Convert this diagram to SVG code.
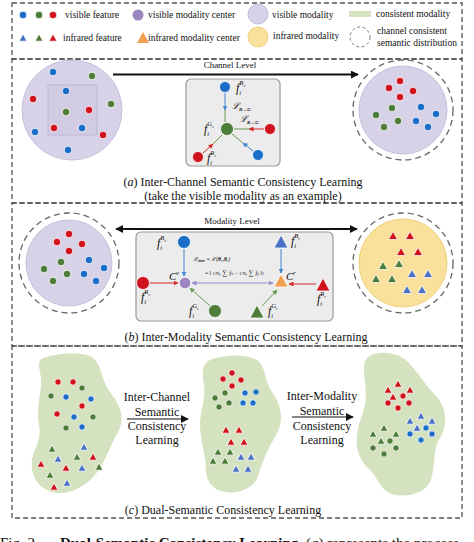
<svg xmlns="http://www.w3.org/2000/svg" xmlns:xlink="http://www.w3.org/1999/xlink" width="474" height="542" viewBox="0 0 474 542">
<style>
text{font-family:"Liberation Serif","Times New Roman",serif;fill:#111}
.leg{font-size:9.5px}
.cap{font-size:12px}
.lvl{font-size:9px}
.mid{text-anchor:middle}
.m{font-style:italic;font-size:12px}
.sb{font-size:6.5px}
.sp{font-size:6.5px}
.ss{font-size:4.5px}
.b{fill:#1a6ec8}
.g{fill:#4e7d3a}
.r{fill:#cf121b}
.tb{fill:#4a72c4}
.dot{stroke:#fff;stroke-width:0.8}
.frame{fill:none;stroke:#555;stroke-width:1.3;stroke-dasharray:5,3}
.dring{fill:#fff;stroke:#666;stroke-width:1.3;stroke-dasharray:6,4}
.lav{fill:#d8d2e8;stroke:#c6bedc;stroke-width:1}
.yel{fill:#f9e09b;stroke:#f1d07a;stroke-width:1}
.blob{fill:#d5e2c0}
.box{fill:#ececec;stroke:#9a9a9a;stroke-width:1.2}
</style>
<defs>
<circle id="c" r="3.8" class="dot"/>
<circle id="cs" r="3.2" class="dot"/>
<path id="t" d="M0,-4.6 L4.6,3.6 L-4.6,3.6Z" class="dot"/>
<path id="ts" d="M0,-4 L4,3.2 L-4,3.2Z" class="dot"/>
<marker id="ak" viewBox="0 0 10 10" refX="9" refY="5" markerWidth="8" markerHeight="8" markerUnits="userSpaceOnUse" orient="auto-start-reverse"><path d="M0,0 L10,5 L0,10Z" fill="#111"/></marker>
<marker id="ab" viewBox="0 0 10 10" refX="9" refY="5" markerWidth="5" markerHeight="5" markerUnits="userSpaceOnUse" orient="auto"><path d="M0,0 L10,5 L0,10Z" fill="#3f86d0"/></marker>
<marker id="ar" viewBox="0 0 10 10" refX="9" refY="5" markerWidth="5" markerHeight="5" markerUnits="userSpaceOnUse" orient="auto"><path d="M0,0 L10,5 L0,10Z" fill="#d42a2a"/></marker>
<marker id="ag" viewBox="0 0 10 10" refX="9" refY="5" markerWidth="5" markerHeight="5" markerUnits="userSpaceOnUse" orient="auto"><path d="M0,0 L10,5 L0,10Z" fill="#6a9a50"/></marker>
<marker id="ap" viewBox="0 0 10 10" refX="9" refY="5" markerWidth="5" markerHeight="5" markerUnits="userSpaceOnUse" orient="auto-start-reverse"><path d="M0,0 L10,5 L0,10Z" fill="#9a8cc8"/></marker>
</defs>

<!-- frames -->
<g id="frames">
<rect class="frame" x="12" y="3" width="450" height="56"/>
<rect class="frame" x="12" y="59" width="450" height="144"/>
<rect class="frame" x="12" y="203" width="450" height="143"/>
<rect class="frame" x="12" y="346" width="450" height="172"/>
</g>

<!-- legend -->
<g id="legend">
<use href="#c" x="23" y="15" class="b"/><use href="#c" x="39" y="15" class="g"/><use href="#c" x="53" y="15" class="r"/>
<text class="leg" x="65" y="18">visible feature</text>
<circle cx="138" cy="15" r="5.5" fill="#9b86bf"/>
<text class="leg" x="148" y="18">visible modality center</text>
<circle cx="258" cy="14" r="10" class="lav"/>
<text class="leg" x="272" y="18">visible modality</text>
<rect x="349" y="11" width="22" height="6" fill="#d5e2c0"/>
<text class="leg" x="376" y="17">consistent modality</text>
<use href="#ts" x="23" y="38" class="tb"/><use href="#ts" x="39" y="38" class="g"/><use href="#ts" x="53" y="38" class="r"/>
<text class="leg" x="63" y="41">infrared feature</text>
<path d="M143,32 L149,43 L137,43Z" fill="#f0a050"/>
<text class="leg" x="148" y="41">infrared modality center</text>
<circle cx="258" cy="37" r="10" class="yel"/>
<text class="leg" x="273" y="39">infrared modality</text>
<circle cx="360" cy="37" r="10" fill="none" stroke="#777" stroke-width="1" stroke-dasharray="3,2.5"/>
<text class="leg" x="377" y="34">channel consistent</text>
<text class="leg" x="377" y="46">semantic distribution</text>
</g>

<!-- panel a -->
<g id="a-left">
<circle cx="72" cy="110" r="50" class="lav"/>
<rect x="48" y="85" width="49" height="50" fill="#d2cbe4" stroke="#b8b0cf" stroke-width="0.8"/>
<use href="#c" x="53" y="72" class="b"/><use href="#c" x="92" y="76" class="g"/><use href="#c" x="66" y="91" class="b"/>
<use href="#c" x="33" y="99" class="r"/><use href="#c" x="111" y="104" class="g"/><use href="#c" x="66" y="112" class="g"/>
<use href="#c" x="89" y="110" class="r"/><use href="#c" x="54" y="128" class="r"/><use href="#c" x="82" y="128" class="b"/>
<use href="#c" x="35" y="132" class="b"/><use href="#c" x="103" y="135" class="r"/><use href="#c" x="68" y="150" class="b"/>
</g>
<g id="a-box">
<rect x="186" y="79" width="94" height="87" rx="5" class="box"/>
<text class="m" x="236" y="92" font-size="11">f<tspan class="sb" dy="3">i</tspan><tspan class="sp" dx="-2" dy="-10">B</tspan><tspan class="ss" dy="2">v</tspan></text>
<text class="m" x="204" y="133" font-size="11">f<tspan class="sb" dy="3">i</tspan><tspan class="sp" dx="-2" dy="-10">G</tspan><tspan class="ss" dy="2">v</tspan></text>
<text class="m" x="207" y="162" font-size="11">f<tspan class="sb" dy="3">i</tspan><tspan class="sp" dx="-2" dy="-10">R</tspan><tspan class="ss" dy="2">v</tspan></text>
<text x="232" y="109" font-size="9" font-style="italic">ℒ<tspan dy="2" font-size="5" font-weight="bold">B→G</tspan></text>
<text x="240" y="122" font-size="9" font-style="italic">ℒ<tspan dy="2" font-size="5" font-weight="bold">R→G</tspan></text>
<circle cx="225" cy="87" r="5.5" class="b dot"/>
<circle cx="270" cy="129" r="5.5" class="r dot"/>
<circle cx="198" cy="157" r="5.5" class="r dot"/>
<circle cx="258" cy="155" r="5.5" class="b dot"/>
<circle cx="227" cy="129" r="6.5" class="g dot"/>
</g>
<g id="a-right">
<circle cx="403" cy="110" r="50" class="dring"/>
<circle cx="403" cy="110" r="44" class="lav"/>
<use href="#c" x="400" y="81" class="r"/><use href="#c" x="389" y="88" class="r"/><use href="#c" x="413" y="91" class="r"/><use href="#c" x="400" y="97" class="r"/>
<use href="#c" x="392" y="108" class="g"/><use href="#c" x="376" y="115" class="g"/><use href="#c" x="398" y="121" class="g"/><use href="#c" x="384" y="127" class="g"/>
<use href="#c" x="421" y="107" class="b"/><use href="#c" x="436" y="114" class="b"/><use href="#c" x="416" y="121" class="b"/><use href="#c" x="428" y="127" class="b"/>
</g>
<text class="lvl mid" x="230" y="68">Channel Level</text>
<text class="cap mid" x="243" y="186">(<tspan font-style="italic">a</tspan>) Inter-Channel Semantic Consistency Learning</text>
<text class="cap mid" x="243" y="200">(take the visible modality as an example)</text>

<!-- panel b -->
<g id="b-left">
<circle cx="69" cy="263" r="50" class="dring"/>
<circle cx="69" cy="263" r="43" class="lav"/>
<use href="#c" x="69" y="234" class="r"/><use href="#c" x="57" y="242" class="r"/><use href="#c" x="82" y="244" class="r"/><use href="#c" x="69" y="251" class="r"/>
<use href="#c" x="61" y="262" class="g"/><use href="#c" x="44" y="269" class="g"/><use href="#c" x="67" y="274" class="g"/><use href="#c" x="53" y="281" class="g"/>
<use href="#c" x="89" y="260" class="b"/><use href="#c" x="104" y="268" class="b"/><use href="#c" x="84" y="274" class="b"/><use href="#c" x="96" y="281" class="b"/>
</g>
<g id="b-box">
<rect x="136" y="232" width="197" height="89" rx="5" class="box"/>
<text x="193" y="261" font-size="5.5" font-style="italic">ℒ<tspan font-size="3.5" font-weight="bold" dy="1">inter</tspan><tspan dy="-1"> = ℒ(</tspan><tspan font-weight="bold">θ</tspan><tspan font-size="3.5" dy="1">v</tspan><tspan dy="-1">,</tspan><tspan font-weight="bold">θ</tspan><tspan font-size="3.5" dy="1">r</tspan><tspan dy="-1">)</tspan></text>
<text x="205" y="275" font-size="5.5">= ‖ <tspan font-size="4.5">1/N<tspan font-size="3" dy="1">v</tspan></tspan><tspan dy="-1" font-size="7"> ∑ </tspan><tspan font-style="italic">f</tspan><tspan font-size="3.5">i</tspan><tspan font-size="3.5">v</tspan> − <tspan font-size="4.5">1/N<tspan font-size="3" dy="1">r</tspan></tspan><tspan dy="-1" font-size="7"> ∑ </tspan><tspan font-style="italic">f</tspan><tspan font-size="3.5">j</tspan><tspan font-size="3.5">r</tspan> ‖<tspan font-size="3.5">2</tspan></text>
<text class="m" x="157" y="247">f<tspan class="sb" dy="3">i</tspan><tspan class="sp" dx="-2" dy="-10">B</tspan><tspan class="ss" dy="2">v</tspan></text>
<text x="169" y="280" font-size="11" font-style="italic">C<tspan font-size="6" dy="-5">v</tspan></text>
<text class="m" x="141" y="301">f<tspan class="sb" dy="3">i</tspan><tspan class="sp" dx="-2" dy="-10">R</tspan><tspan class="ss" dy="2">v</tspan></text>
<text class="m" x="189" y="315">f<tspan class="sb" dy="3">i</tspan><tspan class="sp" dx="-2" dy="-10">G</tspan><tspan class="ss" dy="2">v</tspan></text>
<text class="m" x="291" y="245">f<tspan class="sb" dy="3">i</tspan><tspan class="sp" dx="-2" dy="-10">B</tspan><tspan class="ss" dy="2">r</tspan></text>
<text x="286" y="280" font-size="11" font-style="italic">C<tspan font-size="6" dy="-5">r</tspan></text>
<text class="m" x="317" y="303">f<tspan class="sb" dy="3">i</tspan><tspan class="sp" dx="-2" dy="-10">R</tspan><tspan class="ss" dy="2">r</tspan></text>
<text class="m" x="268" y="315">f<tspan class="sb" dy="3">i</tspan><tspan class="sp" dx="-2" dy="-10">G</tspan><tspan class="ss" dy="2">r</tspan></text>
<circle cx="184" cy="242" r="6.5" class="b dot"/>
<circle cx="143" cy="283" r="6.5" class="r dot"/>
<circle cx="215" cy="311" r="6.5" class="g dot"/>
<circle cx="185" cy="283" r="5.8" fill="#9b86bf" stroke="#fff" stroke-width="0.8"/>
<path d="M281,235 L288,248 L274,248Z" class="tb dot"/>
<path d="M281,274 L288,287 L274,287Z" fill="#f0a050" stroke="#fff" stroke-width="0.8"/>
<path d="M323,278 L330,291 L316,291Z" class="r dot"/>
<path d="M257,305 L264,318 L250,318Z" class="g dot"/>
</g>
<g id="b-right">
<circle cx="403" cy="263" r="50" class="dring"/>
<circle cx="403" cy="263" r="44" class="yel"/>
<use href="#t" x="393" y="236" class="r"/><use href="#t" x="410" y="236" class="r"/><use href="#t" x="401" y="252" class="r"/><use href="#t" x="418" y="252" class="r"/>
<use href="#t" x="383" y="266" class="g"/><use href="#t" x="399" y="264" class="g"/><use href="#t" x="376" y="279" class="g"/><use href="#t" x="392" y="279" class="g"/>
<use href="#t" x="412" y="274" class="tb"/><use href="#t" x="428" y="274" class="tb"/><use href="#t" x="407" y="290" class="tb"/><use href="#t" x="422" y="290" class="tb"/>
</g>
<text class="lvl mid" x="232" y="224">Modality Level</text>
<text class="cap mid" x="246" y="341">(<tspan font-style="italic">b</tspan>) Inter-Modality Semantic Consistency Learning</text>

<!-- panel c -->
<g id="c-blob1">
<path class="blob" d="M43,358 C60,352 80,352 90,356 C102,362 100,378 110,392 C120,405 126,418 118,432 C110,445 106,462 95,475 C85,488 65,496 52,492 C38,488 30,475 32,460 C34,448 42,440 39,425 C36,410 40,398 41,385 C42,372 35,362 43,358 Z"/>
<use href="#cs" x="58" y="382" class="r"/><use href="#cs" x="73" y="382" class="r"/><use href="#cs" x="82" y="388" class="g"/><use href="#cs" x="51" y="396" class="g"/>
<use href="#cs" x="66" y="397" class="b"/><use href="#cs" x="82" y="406" class="r"/><use href="#cs" x="91" y="399" class="b"/><use href="#cs" x="57" y="414" class="r"/>
<use href="#cs" x="74" y="417" class="b"/><use href="#cs" x="93" y="417" class="g"/><use href="#cs" x="66" y="428" class="g"/><use href="#cs" x="82" y="427" class="b"/>
<use href="#ts" x="52" y="449" class="g"/><use href="#ts" x="84" y="447" class="tb"/><use href="#ts" x="58" y="459" class="tb"/><use href="#ts" x="77" y="457" class="g"/>
<use href="#ts" x="93" y="457" class="r"/><use href="#ts" x="41" y="464" class="r"/><use href="#ts" x="66" y="468" class="r"/><use href="#ts" x="82" y="468" class="tb"/>
<use href="#ts" x="99" y="467" class="g"/><use href="#ts" x="50" y="475" class="g"/><use href="#ts" x="67" y="483" class="tb"/><use href="#ts" x="54" y="487" class="r"/>
</g>
<g id="c-blob2">
<path class="blob" d="M210,360 C225,354 245,354 257,360 C266,366 264,380 272,392 C282,405 284,422 276,435 C268,448 262,462 258,476 C254,488 240,494 225,492 C212,490 206,480 206,470 C206,455 200,440 200,425 C200,410 206,400 204,385 C202,372 202,364 210,360 Z"/>
<use href="#cs" x="232" y="373" class="r"/><use href="#cs" x="223" y="379" class="r"/><use href="#cs" x="241" y="380" class="r"/><use href="#cs" x="232" y="386" class="r"/>
<use href="#cs" x="225" y="393" class="g"/><use href="#cs" x="215" y="398" class="g"/><use href="#cs" x="229" y="403" class="g"/><use href="#cs" x="219" y="407" class="g"/>
<use href="#cs" x="245" y="393" class="b"/><use href="#cs" x="256" y="392" class="b"/><use href="#cs" x="243" y="403" class="b"/><use href="#cs" x="253" y="403" class="b"/>
<use href="#ts" x="226" y="430" class="r"/><use href="#ts" x="239" y="430" class="r"/><use href="#ts" x="231" y="442" class="r"/><use href="#ts" x="244" y="442" class="r"/>
<use href="#ts" x="218" y="452" class="g"/><use href="#ts" x="230" y="452" class="g"/><use href="#ts" x="213" y="461" class="g"/><use href="#ts" x="225" y="461" class="g"/>
<use href="#ts" x="241" y="457" class="tb"/><use href="#ts" x="251" y="457" class="tb"/><use href="#ts" x="236" y="469" class="tb"/><use href="#ts" x="248" y="469" class="tb"/>
</g>
<g id="c-blob3">
<path class="blob" d="M368,357 C378,350 398,352 408,362 C418,372 425,385 435,395 C447,407 448,425 440,438 C432,450 436,468 430,482 C424,494 405,498 392,494 C380,490 378,478 370,470 C360,462 355,448 357,435 C358,422 366,410 366,395 C366,380 360,364 368,357 Z"/>
<use href="#ts" x="398" y="384" class="r"/><use href="#ts" x="388" y="390" class="r"/><use href="#ts" x="410" y="390" class="r"/><use href="#ts" x="393" y="397" class="r"/>
<use href="#cs" x="403" y="396" class="r"/><use href="#cs" x="388" y="403" class="r"/><use href="#cs" x="409" y="403" class="r"/><use href="#cs" x="398" y="408" class="r"/>
<use href="#ts" x="421" y="416" class="tb"/><use href="#ts" x="410" y="421" class="tb"/><use href="#ts" x="432" y="421" class="tb"/><use href="#ts" x="417" y="428" class="tb"/>
<use href="#cs" x="426" y="428" class="b"/><use href="#cs" x="410" y="434" class="b"/><use href="#cs" x="432" y="434" class="b"/><use href="#cs" x="421" y="440" class="b"/>
<use href="#ts" x="384" y="428" class="g"/><use href="#ts" x="373" y="434" class="g"/><use href="#ts" x="396" y="434" class="g"/><use href="#ts" x="381" y="441" class="g"/>
<use href="#cs" x="390" y="441" class="g"/><use href="#cs" x="373" y="448" class="g"/><use href="#cs" x="396" y="448" class="g"/><use href="#cs" x="384" y="454" class="g"/>
</g>
<g id="c-labels">
<text class="cap mid" x="157" y="401">Inter-Channel</text>
<text class="cap mid" x="157" y="416">Semantic</text>
<text class="cap mid" x="157" y="430">Consistency</text>
<text class="cap mid" x="157" y="444">Learning</text>
<text class="cap mid" x="322" y="400">Inter-Modality</text>
<text class="cap mid" x="322" y="415">Semantic</text>
<text class="cap mid" x="322" y="430">Consistency</text>
<text class="cap mid" x="322" y="444">Learning</text>
</g>
<text class="cap mid" x="223" y="514">(<tspan font-style="italic">c</tspan>) Dual-Semantic Consistency Learning</text>

<!-- connectors -->
<g id="connectors" fill="none">
<line x1="113" y1="74.5" x2="358" y2="74.5" stroke="#111" stroke-width="1.8" marker-end="url(#ak)"/>
<line x1="116" y1="229" x2="357" y2="229" stroke="#111" stroke-width="1.8" marker-start="url(#ak)" marker-end="url(#ak)"/>
<line x1="127" y1="419" x2="188" y2="419" stroke="#111" stroke-width="1.2" marker-end="url(#ak)"/>
<line x1="292" y1="417" x2="353" y2="417" stroke="#111" stroke-width="1.2" marker-end="url(#ak)"/>
<!-- a box -->
<line x1="225" y1="93" x2="225" y2="110" stroke="#3f86d0" stroke-width="1" marker-end="url(#ab)"/>
<line x1="225" y1="110" x2="225" y2="122" stroke="#6a9a50" stroke-width="1"/>
<line x1="264" y1="129" x2="249" y2="129" stroke="#d42a2a" stroke-width="1" marker-end="url(#ar)"/>
<line x1="249" y1="129" x2="234" y2="129" stroke="#6a9a50" stroke-width="1"/>
<line x1="203" y1="153" x2="213" y2="144" stroke="#d42a2a" stroke-width="1" marker-end="url(#ar)"/>
<line x1="213" y1="144" x2="222" y2="135" stroke="#6a9a50" stroke-width="1"/>
<line x1="253" y1="151" x2="243" y2="143" stroke="#3f86d0" stroke-width="1" marker-end="url(#ab)"/>
<line x1="243" y1="143" x2="232" y2="134" stroke="#6a9a50" stroke-width="1"/>
<!-- b box -->
<line x1="184" y1="249" x2="184" y2="276" stroke="#3f86d0" stroke-width="1" marker-end="url(#ab)"/>
<line x1="150" y1="283" x2="178" y2="283" stroke="#d42a2a" stroke-width="1" marker-end="url(#ar)"/>
<line x1="210" y1="306" x2="190" y2="288" stroke="#6a9a50" stroke-width="1" marker-end="url(#ag)"/>
<line x1="192" y1="283" x2="273" y2="283" stroke="#9a8cc8" stroke-width="1" marker-start="url(#ap)" marker-end="url(#ap)"/>
<line x1="281" y1="249" x2="281" y2="273" stroke="#3f86d0" stroke-width="1" marker-end="url(#ab)"/>
<line x1="316" y1="284" x2="289" y2="284" stroke="#d42a2a" stroke-width="1" marker-end="url(#ar)"/>
<line x1="262" y1="306" x2="277" y2="290" stroke="#6a9a50" stroke-width="1" marker-end="url(#ag)"/>
</g>

<!-- figure caption (cut off at bottom) -->
<g id="caption">
<text x="0" y="548" font-size="15">Fig. 2.</text>
<text x="60" y="548" font-size="15" font-weight="bold">Dual-Semantic Consistency Learning.</text>
<text x="306" y="548" font-size="15">(<tspan font-style="italic">a</tspan>) represents the process</text>
</g>
</svg>
